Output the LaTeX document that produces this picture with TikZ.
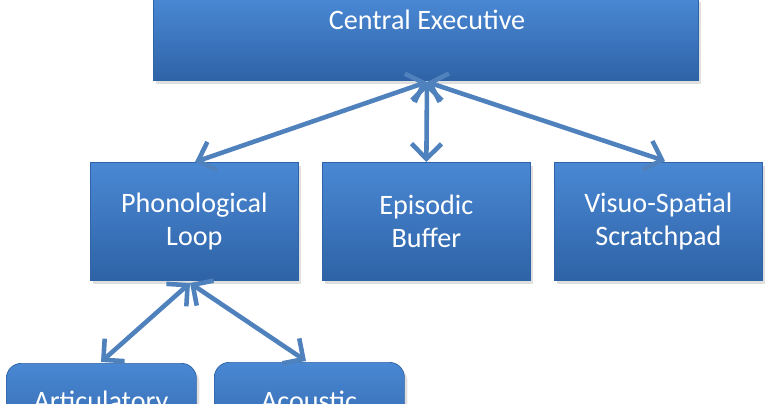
\documentclass[tikz,border=0pt]{standalone}
\usepackage{fontspec}
\setmainfont{Carlito}
\usetikzlibrary{arrows.meta,shadows}
\definecolor{boxtop}{HTML}{4A88D4}
\definecolor{boxbot}{HTML}{2E63A6}
\definecolor{arr}{HTML}{4F81BD}
\begin{document}
\begin{tikzpicture}[x=0.01cm,y=-0.01cm,
  lbl/.style={text=white,font=\fontsize{8pt}{9.4pt}\selectfont},
  box/.style={lbl,draw=boxbot,line width=0.2pt,top color=boxtop,bottom color=boxbot,
    align=center,inner sep=0pt,
    drop shadow={opacity=0.25,shadow xshift=0.3mm,shadow yshift=-0.4mm}},
  link/.style={draw=arr,line width=1.3pt,{Straight Barb[length=1.5mm,width=3mm]}-{Straight Barb[length=1.5mm,width=3mm]}}]
\useasboundingbox (0,0) rectangle (768,404);
\clip (0,0) rectangle (768,404);
\node[box,minimum width=545*0.01cm,minimum height=82*0.01cm,anchor=north west] (ce) at (153,-2) {};
\node[lbl] at (427,20) {Central Executive};
\node[box,minimum width=208*0.01cm,minimum height=118*0.01cm,anchor=north west] (pl) at (90,162) {Phonological\\Loop};
\node[box,minimum width=208*0.01cm,minimum height=118*0.01cm,anchor=north west] (eb) at (322,162) {Episodic\\Buffer};
\node[box,minimum width=208*0.01cm,minimum height=118*0.01cm,anchor=north west] (vs) at (554,162) {Visuo-Spatial\\Scratchpad};
\node[box,rounded corners=0.15cm,minimum width=190*0.01cm,minimum height=90*0.01cm,anchor=north west] (ar) at (6,363) {};
\node[box,rounded corners=0.15cm,minimum width=190*0.01cm,minimum height=90*0.01cm,anchor=north west] (ac) at (214,362) {};
\node[lbl,anchor=base] at (101,410) {Articulatory};
\node[lbl,anchor=base] at (309,410) {Acoustic};
\coordinate (cehub) at (427,82);
\coordinate (plhub) at (190,283);
\draw[link] (cehub) -- (195,162);
\draw[link] (cehub) -- (eb.north);
\draw[link] (cehub) -- (665,161);
\draw[link] (plhub) -- (101,362);
\draw[link] (plhub) -- (306,361);
\end{tikzpicture}
\end{document}
